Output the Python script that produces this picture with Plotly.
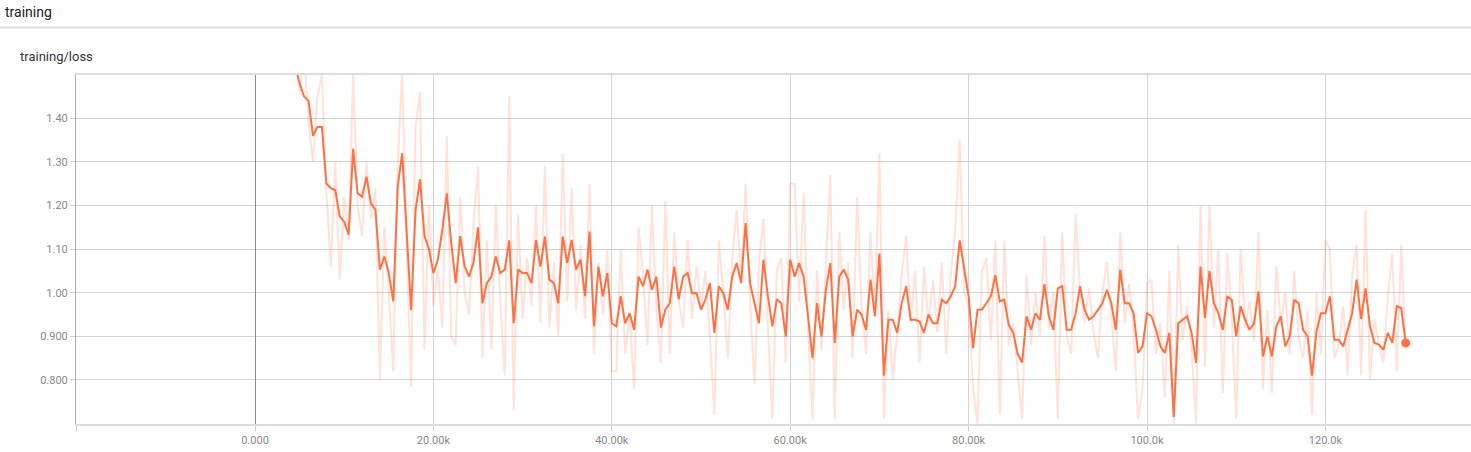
import plotly.graph_objects as go

# training steps: one logged point every 500 steps
STEP_FIRST = 4500
STEP_LAST = 129000
STEP_EVERY = 500

# smoothed loss in blocks of ~20k steps
smooth_a = [1.52, 1.48, 1.45, 1.44, 1.36, 1.38, 1.38, 1.25, 1.24, 1.235, 1.175, 1.163, 1.133, 1.33, 1.228, 1.22,
            1.266, 1.205, 1.19, 1.053, 1.083, 1.045, 0.98, 1.244, 1.32, 1.13, 0.96, 1.19, 1.26, 1.13, 1.10, 1.045]
smooth_b = [1.076, 1.144, 1.228, 1.114, 1.022, 1.13, 1.06, 1.037, 1.07, 1.15,
            0.976, 1.022, 1.037, 1.083, 1.045, 1.053, 1.12, 0.93, 1.053, 1.045,
            1.045, 1.022, 1.121, 1.06, 1.129, 1.03, 1.022, 0.976, 1.129, 1.068,
            1.121, 1.053, 1.076, 0.992, 1.14, 0.923, 1.06, 0.992, 1.045, 0.93]
smooth_c = [0.923, 0.992, 0.93, 0.953, 0.915, 1.037, 1.015, 1.053, 1.007, 1.037,
            0.92, 0.961, 0.976, 1.06, 0.985, 1.037, 1.045, 0.999, 0.999, 0.961,
            0.985, 1.022, 0.908, 1.015, 0.999, 0.961, 1.037, 1.068, 1.022, 1.16,
            1.022, 0.976, 0.93, 1.076, 0.992, 0.923, 0.985, 0.976, 0.90, 1.076]
smooth_d = [1.037, 1.068, 1.037, 0.946, 0.85, 0.976, 0.90, 1.007, 1.068, 0.885,
            1.037, 1.053, 1.03, 0.90, 0.961, 0.95, 0.915, 1.03, 0.946, 1.09,
            0.81, 0.938, 0.938, 0.908, 0.976, 1.015, 0.938, 0.938, 0.934, 0.908,
            0.95, 0.93, 0.93, 0.984, 0.976, 0.992, 1.015, 1.12, 1.053, 0.992]
smooth_e = [0.873, 0.961, 0.961, 0.976, 0.992, 1.04, 0.98, 0.984, 0.927, 0.908,
            0.86, 0.84, 0.946, 0.915, 0.953, 0.938, 1.02, 0.946, 0.915, 1.01,
            1.015, 0.915, 0.915, 0.953, 1.015, 0.961, 0.938, 0.946, 0.961, 0.976,
            1.007, 0.976, 0.915, 1.053, 0.976, 0.976, 0.953, 0.862, 0.877, 0.953]
smooth_f = [0.946, 0.915, 0.877, 0.862, 0.908, 0.715, 0.93, 0.938, 0.946, 0.908,
            0.839, 1.06, 0.942, 1.05, 0.976, 0.953, 0.915, 0.992, 0.984, 0.90,
            0.969, 0.938, 0.915, 0.93, 1.003, 0.854, 0.90, 0.854, 0.923, 0.946,
            0.877, 0.90, 0.984, 0.976, 0.915, 0.90, 0.81, 0.911, 0.953, 0.953]
smooth_g = [0.992, 0.892, 0.892, 0.877, 0.915, 0.953, 1.03, 0.94, 1.01, 0.923, 0.885, 0.881, 0.869, 0.908,
            0.885, 0.969, 0.965, 0.885]

# raw (unsmoothed) loss, the faint spiky line
raw_a = [1.56, 1.46, 1.55, 1.39, 1.30, 1.45, 1.50, 1.23, 1.06, 1.30, 1.03, 1.22, 1.12, 1.50, 1.20, 1.13,
         1.30, 1.17, 1.24, 0.80, 1.15, 1.00, 0.82, 1.30, 1.50, 1.10, 0.785, 1.38, 1.46, 0.87, 1.20, 0.97]
raw_b = [1.05, 0.92, 1.36, 0.90, 0.88, 1.22, 1.00, 0.95, 1.16, 1.29,
         0.85, 1.12, 0.87, 1.20, 0.98, 0.81, 1.45, 0.73, 1.18, 0.94,
         1.08, 0.97, 1.20, 0.93, 1.29, 0.92, 1.07, 0.90, 1.32, 0.98,
         1.24, 0.96, 1.11, 0.94, 1.25, 0.86, 1.07, 0.95, 1.10, 0.82]
raw_c = [0.82, 1.10, 0.86, 0.95, 0.78, 1.15, 1.04, 0.88, 1.20, 0.96,
         0.84, 1.21, 0.86, 1.14, 0.98, 0.92, 1.12, 0.94, 1.06, 0.97,
         1.05, 0.90, 0.72, 1.12, 1.00, 0.85, 1.08, 1.19, 1.03, 1.25,
         0.98, 0.79, 1.07, 1.17, 0.92, 0.71, 1.05, 1.08, 0.84, 1.25]
raw_d = [1.25, 0.98, 1.23, 0.92, 0.71, 1.05, 0.87, 1.08, 1.27, 0.71,
         1.14, 0.96, 1.07, 0.85, 1.22, 0.97, 0.86, 1.14, 0.95, 1.32,
         0.71, 0.96, 0.80, 0.91, 1.04, 1.13, 0.93, 1.05, 0.84, 1.06,
         0.93, 1.03, 0.91, 1.07, 0.86, 1.04, 1.14, 1.35, 1.00, 0.97]
raw_e = [0.78, 0.70, 1.05, 1.08, 0.89, 1.12, 0.72, 1.12, 0.88, 0.93,
         0.82, 0.71, 1.04, 0.88, 1.00, 0.90, 1.13, 0.92, 1.00, 0.71,
         1.14, 0.90, 0.86, 1.18, 1.00, 0.93, 1.01, 0.91, 0.85, 1.00,
         1.07, 0.95, 0.82, 1.14, 0.93, 1.02, 0.91, 0.71, 0.78, 1.02]
raw_f = [1.03, 0.86, 0.93, 0.76, 1.05, 0.70, 1.11, 0.89, 0.97, 0.87,
         0.70, 1.20, 0.83, 1.20, 0.92, 1.10, 0.77, 1.09, 0.94, 0.71,
         1.10, 0.92, 0.98, 0.89, 1.14, 0.78, 0.96, 0.77, 1.06, 0.93,
         1.00, 0.86, 1.05, 0.90, 0.85, 0.96, 0.72, 1.00, 0.86, 1.12]
raw_g = [1.10, 0.85, 0.88, 0.97, 0.81, 1.04, 1.11, 0.81, 1.19, 0.80, 0.94, 0.88, 0.84, 0.99, 1.09, 0.82,
         1.11, 0.87]

x_tickvals = [-20000, 0, 20000, 40000, 60000, 80000, 100000, 120000]
x_ticktext = ["", "0.000", "20.00k", "40.00k", "60.00k", "80.00k", "100.0k", "120.0k"]
y_tickvals = [0.8, 0.9, 1.0, 1.1, 1.2, 1.3, 1.4]
y_ticktext = ["0.800", "0.900", "1.00", "1.10", "1.20", "1.30", "1.40"]

ORANGE = "#ff7043"
FONT = "Roboto"

steps = list(range(STEP_FIRST, STEP_LAST + 1, STEP_EVERY))
smoothed = smooth_a + smooth_b + smooth_c + smooth_d + smooth_e + smooth_f + smooth_g
raw = raw_a + raw_b + raw_c + raw_d + raw_e + raw_f + raw_g

fig = go.Figure()
fig.add_trace(go.Scatter(x=steps, y=raw, mode="lines",
                         line=dict(color="rgba(255,112,67,0.2)", width=2), hoverinfo="skip"))
fig.add_trace(go.Scatter(x=steps, y=smoothed, mode="lines",
                         line=dict(color=ORANGE, width=2)))
fig.add_trace(go.Scatter(x=steps[-1:], y=smoothed[-1:], mode="markers",
                         marker=dict(color=ORANGE, size=9)))

fig.update_layout(
    width=1471,
    height=452,
    margin=dict(l=76, r=0, t=75, b=28),
    paper_bgcolor="white",
    plot_bgcolor="white",
    showlegend=False,
    font=dict(family=FONT, color="#888", size=11),
)
fig.update_xaxes(
    range=[-20067, 136323],
    tickvals=x_tickvals, ticktext=x_ticktext,
    showgrid=True, gridcolor="#d4d4d4", gridwidth=1,
    zeroline=True, zerolinecolor="#8c8c8c", zerolinewidth=1,
    showline=True, linecolor="#ddd", linewidth=2, mirror=True,
    ticks="outside", ticklen=5, tickcolor="#ccc",
)
fig.update_yaxes(
    range=[0.699, 1.4993],
    tickvals=y_tickvals, ticktext=y_ticktext,
    showgrid=True, gridcolor="#d4d4d4", gridwidth=1,
    zeroline=False,
    showline=True, linecolor="#aaa", linewidth=1,
    ticks="outside", ticklen=5, tickcolor="#ccc",
)

# header bar and card title
fig.add_shape(type="line", xref="paper", yref="paper", x0=-0.06, x1=1, y0=1.136, y1=1.136,
              line=dict(color="#dedede", width=2))
fig.add_annotation(text="training", xref="paper", yref="paper", x=-0.0524, y=1.181,
                   xanchor="left", yanchor="middle", showarrow=False,
                   font=dict(family=FONT, size=14, color="#212121"))
fig.add_annotation(text="training/loss", xref="paper", yref="paper", x=-0.0416, y=1.054,
                   xanchor="left", yanchor="middle", showarrow=False,
                   font=dict(family=FONT, size=13, color="#333"))

fig.write_html("out.html", config={"displayModeBar": False},
               post_script="document.body.style.margin='0';")
